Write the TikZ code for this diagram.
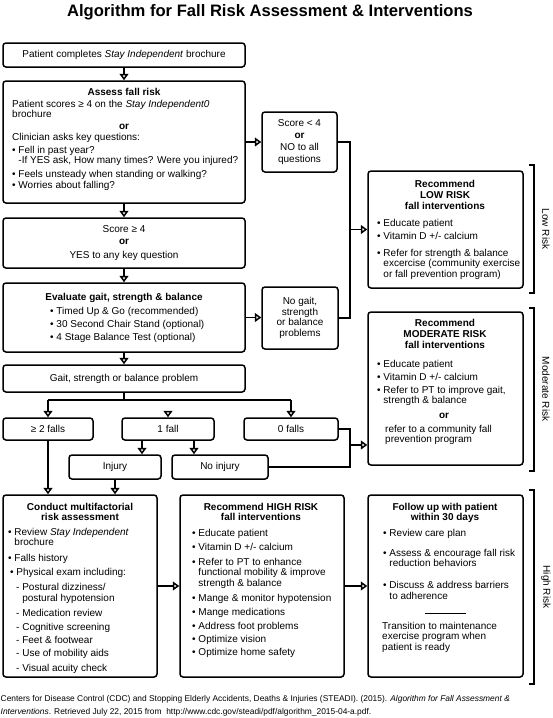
\documentclass[tikz,border=0pt]{standalone}
\usepackage{fontspec}
\setmainfont{Liberation Sans}
\usetikzlibrary{arrows.meta}
\newcommand\bodyfs{\fontsize{10}{10.5}\selectfont}
\newcommand\sst{\rule{0pt}{8pt}}
\newcommand\ind{\phantom{•\ }}
\begin{document}
\begin{tikzpicture}[x=1pt,y=-1pt,
  box/.style={draw, line width=1.5pt, rounded corners=3pt, inner sep=0pt, font=\bodyfs, align=center},
  con/.style={line width=1.5pt},
  arr/.style={con, -{Triangle[fill=white, length=6.5pt, width=9pt]}},
  tb/.style={inner sep=0pt, font=\bodyfs, align=left, anchor=north west},
  tc/.style={inner sep=0pt, font=\fontsize{10}{11}\selectfont\bfseries, align=center, anchor=north},
  lb/.style={inner sep=0pt, font=\bodyfs, anchor=base},
  brk/.style={line width=1.1pt},
  side/.style={inner sep=0pt, font=\bodyfs, rotate=-90},
  foot/.style={inner sep=0pt, anchor=base west, font=\fontsize{8.4}{9}\selectfont},
]
\useasboundingbox (0,0) rectangle (552,718);

% title
\node[inner sep=0pt, anchor=base, font=\fontsize{16.6}{20}\selectfont\bfseries] (title) at (270,16) {Algorithm for Fall Risk Assessment \& Interventions};

% left column
\node[box, minimum width=242pt, minimum height=24pt] (b1) at (124,55) {Patient completes \textit{Stay Independent} brochure};

\node[box, minimum width=242pt, minimum height=122pt] (b2) at (124,142) {};
\node[lb, font=\bodyfs\bfseries] (b2t) at (124,95.3) {Assess fall risk};
\node[tb] (b2a) at (12,99) {\sst Patient scores ≥ 4 on the \textit{Stay Independent0}\\brochure};
\node[lb, font=\bodyfs\bfseries] (b2or) at (124,129.3) {or};
\node[tb] (b2b) at (12,132) {\sst Clinician asks key questions:\\[2.5pt]• Fell in past year?\\\ind -If YES ask, How many times? Were you injured?\\[3.5pt]• Feels unsteady when standing or walking?\\• Worries about falling?};

\node[box, minimum width=242pt, minimum height=50pt, font=\fontsize{10}{12}\selectfont] (b3) at (124,243) {Score ≥ 4\\\textbf{or}\\[2pt]YES to any key question};

\node[box, minimum width=242pt, minimum height=69pt] (b4) at (124,317.5) {};
\node[lb, font=\bodyfs\bfseries] (b4t) at (124,300.3) {Evaluate gait, strength \& balance};
\node[tb] (b4a) at (50,306) {\sst • Timed Up \& Go (recommended)\\[2.5pt]• 30 Second Chair Stand (optional)\\[2.5pt]• 4 Stage Balance Test (optional)};

\node[box, minimum width=242pt, minimum height=27pt] (b5) at (124,378.5) {Gait, strength or balance problem};

% middle column
\node[box, minimum width=75pt, minimum height=60pt, font=\fontsize{10}{11.7}\selectfont] (s4) at (299.5,142) {Score < 4\\\textbf{or}\\NO to all\\questions};
\node[box, minimum width=76pt, minimum height=62pt, font=\fontsize{10}{10.7}\selectfont] (ng) at (300,318) {No gait,\\strength\\or balance\\problems};

% right column
\node[box, minimum width=155pt, minimum height=117pt] (low) at (445.5,229.5) {};
\node[tc] (lowt) at (445,179) {\sst Recommend\\LOW RISK\\fall interventions};
\node[tb] (lowa) at (377,218) {\sst • Educate patient\\[2.5pt]• Vitamin D +/- calcium\\[6.5pt]• Refer for strength \& balance\\\ind excercise (community exercise\\\ind or fall prevention program)};

\node[box, minimum width=155pt, minimum height=153pt] (mod) at (445.5,388.5) {};
\node[tc] (modt) at (445,318) {\sst Recommend\\MODERATE RISK\\fall interventions};
\node[tb] (moda) at (377,359) {\sst • Educate patient\\[2.5pt]• Vitamin D +/- calcium\\[2.5pt]• Refer to PT to improve gait,\\\ind strength \& balance};
\node[lb, font=\bodyfs\bfseries] (modor) at (444,418.3) {or};
\node[tb] (modb) at (385,424) {\sst refer to a community fall\\prevention program};

% falls row
\node[box, minimum width=90pt, minimum height=22pt] (two) at (48,429) {≥ 2 falls};
\node[box, minimum width=92pt, minimum height=22pt] (one) at (168,429) {1 fall};
\node[box, minimum width=94pt, minimum height=22pt] (zero) at (291,429) {0 falls};
\node[box, minimum width=92pt, minimum height=24pt] (inj) at (115,467) {Injury};
\node[box, minimum width=96pt, minimum height=24pt] (noinj) at (220,467) {No injury};

% bottom row
\node[box, minimum width=154pt, minimum height=182pt] (multi) at (80,586) {};
\node[tc, font=\fontsize{10}{10.5}\selectfont\bfseries] (multit) at (80,502) {\sst Conduct multifactorial\\risk assessment};
\node[tb] (multia) at (8,527) {\sst • Review \textit{Stay Independent}\\\ind brochure\\[5.5pt]• Falls history\\[3.5pt]\hspace*{2pt}• Physical exam including:\\[4.5pt]\hspace*{8pt}- Postural dizziness/\\\hspace*{8pt}\phantom{- }postural hypotension\\[4.5pt]\hspace*{8pt}- Medication review\\[3.5pt]\hspace*{8pt}- Cognitive screening\\[2.5pt]\hspace*{8pt}- Feet \& footwear\\[2.5pt]\hspace*{8pt}- Use of mobility aids\\[4.5pt]\hspace*{8pt}- Visual acuity check};

\node[box, minimum width=164pt, minimum height=182pt] (high) at (262,586) {};
\node[tc, font=\fontsize{10}{10.5}\selectfont\bfseries] (hight) at (261,502) {\sst Recommend HIGH RISK\\fall interventions};
\node[tb] (higha) at (192,528) {\sst • Educate patient\\[3.5pt]• Vitamin D +/- calcium\\[4.5pt]• Refer to PT to enhance\\\ind functional mobility \& improve\\\ind strength \& balance\\[4.5pt]• Mange \& monitor hypotension\\[3.5pt]• Mange medications\\[3.5pt]• Address foot problems\\[2.5pt]• Optimize vision\\[2.5pt]• Optimize home safety};

\node[box, minimum width=155pt, minimum height=182pt] (fol) at (445.5,586) {};
\node[tc, font=\fontsize{10}{10.5}\selectfont\bfseries] (folt) at (445,502) {\sst Follow up with patient\\within 30 days};
\node[tb] (fola) at (383,528) {\sst • Review care plan\\[9.5pt]• Assess \& encourage fall risk\\\ind reduction behaviors\\[11.5pt]• Discuss \& address barriers\\\ind to adherence};
\coordinate (rl) at (425,613);
\coordinate (rr) at (466,613);
\draw[line width=0.8pt] (rl) -- (rr);
\node[tb] (folb) at (382,621) {\sst Transition to maintenance\\exercise program when\\patient is ready};

% connectors
\draw[arr] (b1) -- (b2);
\draw[arr] (b2) -- (b3);
\draw[arr] (b3) -- (b4);
\draw[arr] (b4) -- (b5);
\draw[arr] (b2.east) -- (s4.west |- b2.east);
\draw[arr] (b4.east) -- (ng.west |- b4.east);
\coordinate (j1) at (350,142);
\coordinate (j2) at (350,318);
\draw[con] (s4.east) -- (j1) -- (j2) -- (ng.east);
\draw[arr] (low.west -| j1) -- (low.west);

\coordinate (bar) at (124,400);
\draw[con] (b5.south) -- (bar);
\draw[con] (two.north |- bar) -- (zero.north |- bar);
\draw[arr] (two.north |- bar) -- (two.north);
\draw[arr] (zero.north |- bar) -- (zero.north);
\draw[arr] ([yshift=6pt]one.north) -- (one.north);
\draw[arr] ([xshift=-26pt]one.south) -- ([xshift=-26pt]one.south |- inj.north);
\draw[arr] ([xshift=26pt]one.south) -- ([xshift=26pt]one.south |- noinj.north);

\coordinate (j3) at (350,429);
\coordinate (j4) at (350,467);
\coordinate (j5) at (350,445);
\draw[con] (zero.east) -- (j3) -- (j4) -- (noinj.east);
\draw[arr] (j5) -- (j5 -| mod.west);

\draw[arr] (two.south) -- (two.south |- multi.north);
\draw[arr] (inj.south) -- (inj.south |- multi.north);
\draw[arr] (multi) -- (high);
\draw[arr] (high) -- (fol);

% brackets
\draw[brk] (529,165) -- (534,165) -- (534,293) -- (529,293);
\draw[brk] (529,308) -- (534,308) -- (534,471) -- (529,471);
\draw[brk] (529,490) -- (534,490) -- (534,684) -- (529,684);
\node[side] (lowl) at (546,229) {Low Risk};
\node[side] (modl) at (546,389) {Moderate Risk};
\node[side] (highl) at (546,587) {High Risk};

% footer
\node[foot] (foot1) at (0.5,701) {Centers for Disease Control (CDC) and Stopping Elderly Accidents, Deaths \& Injuries (STEADI). (2015). \textit{Algorithm for Fall Assessment \&}};
\node[foot] (foot2) at (0.5,714) {\textit{Interventions}. Retrieved July 22, 2015 from\ \ http://www.cdc.gov/steadi/pdf/algorithm\_2015-04-a.pdf.};
\end{tikzpicture}
\end{document}
